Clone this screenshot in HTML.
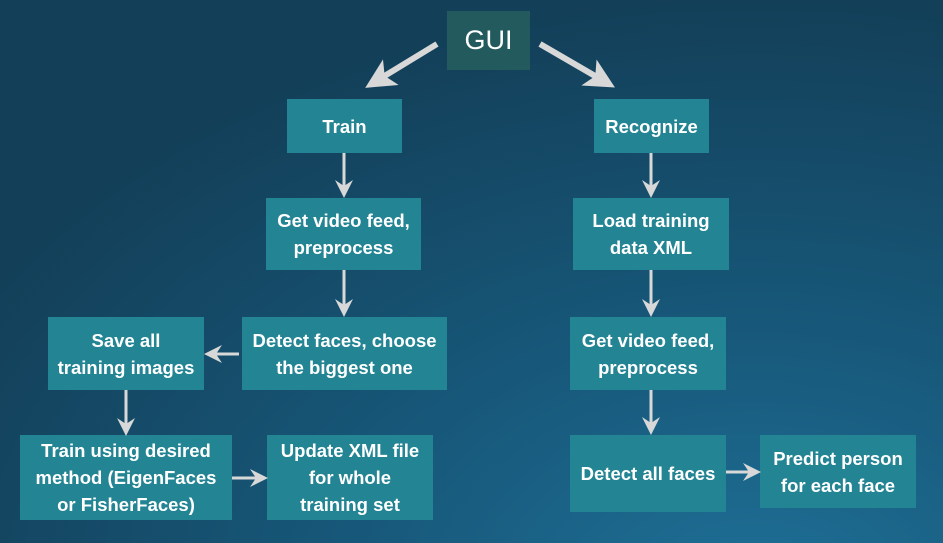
<!DOCTYPE html>
<html><head><style>
html,body{margin:0;padding:0}
body{width:943px;height:543px;position:relative;overflow:hidden;
background:radial-gradient(ellipse 900px 600px at 80% 110%,#1f7097 0%,#17587a 45%,#133f58 100%);
font-family:"Liberation Sans",sans-serif;}
.b{position:absolute;background:#238494;color:#fff;display:flex;align-items:center;justify-content:center;text-align:center;font-size:18.5px;font-weight:bold;line-height:27px;box-sizing:border-box;white-space:nowrap}
svg{position:absolute;left:0;top:0}
</style></head><body>
<div class="b" style="left:447px;top:11px;width:83px;height:59px;background:#235a5e;font-size:27px;font-weight:normal">GUI</div>
<div class="b" style="left:287px;top:99px;width:115px;height:54px">Train</div>
<div class="b" style="left:594px;top:99px;width:115px;height:54px">Recognize</div>
<div class="b" style="left:266px;top:198px;width:155px;height:72px">Get video feed,<br>preprocess</div>
<div class="b" style="left:573px;top:198px;width:156px;height:72px">Load training<br>data XML</div>
<div class="b" style="left:242px;top:317px;width:205px;height:73px">Detect faces, choose<br>the biggest one</div>
<div class="b" style="left:48px;top:317px;width:156px;height:73px">Save all<br>training images</div>
<div class="b" style="left:570px;top:317px;width:156px;height:73px">Get video feed,<br>preprocess</div>
<div class="b" style="left:20px;top:435px;width:212px;height:85px">Train using desired<br>method (EigenFaces<br>or FisherFaces)</div>
<div class="b" style="left:267px;top:435px;width:166px;height:85px">Update XML file<br>for whole<br>training set</div>
<div class="b" style="left:570px;top:435px;width:156px;height:77px">Detect all faces</div>
<div class="b" style="left:760px;top:435px;width:156px;height:73px">Predict person<br>for each face</div>
<svg width="943" height="543">
<defs>
<marker id="a" markerWidth="5" markerHeight="5" refX="2.5" refY="2.5" orient="auto" markerUnits="strokeWidth"><path d="M0,0 L5,2.5 L0,5 L1.2,2.5 Z" fill="#d8d8d8"/></marker>
<marker id="s" markerWidth="6" markerHeight="6" refX="4" refY="3" orient="auto" markerUnits="strokeWidth"><path d="M0,0 L6,3 L0,6 L2,3 Z" fill="#d8d8d8"/></marker>
</defs>
<g stroke="#d8d8d8" fill="none">
<line x1="437" y1="44" x2="378" y2="80" stroke-width="6" marker-end="url(#a)"/>
<line x1="540" y1="44" x2="602" y2="80" stroke-width="6" marker-end="url(#a)"/>
<g stroke-width="3">
<line x1="344" y1="153" x2="344" y2="192" marker-end="url(#s)"/>
<line x1="344" y1="270" x2="344" y2="311" marker-end="url(#s)"/>
<line x1="651" y1="153" x2="651" y2="192" marker-end="url(#s)"/>
<line x1="651" y1="270" x2="651" y2="311" marker-end="url(#s)"/>
<line x1="651" y1="390" x2="651" y2="429" marker-end="url(#s)"/>
<line x1="239" y1="354" x2="210" y2="354" marker-end="url(#s)"/>
<line x1="126" y1="390" x2="126" y2="430" marker-end="url(#s)"/>
<line x1="232" y1="478" x2="262" y2="478" marker-end="url(#s)"/>
<line x1="726" y1="472" x2="755" y2="472" marker-end="url(#s)"/>
</g></g></svg>
</body></html>
